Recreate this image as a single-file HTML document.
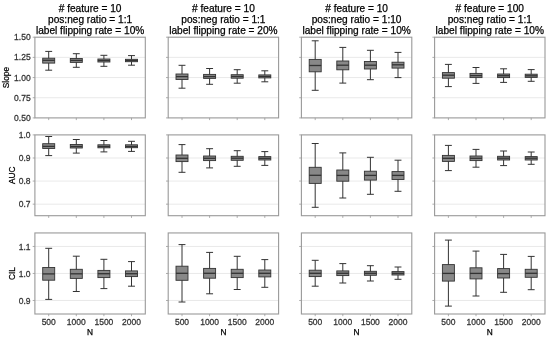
<!DOCTYPE html><html><head><meta charset="utf-8"><style>html,body{margin:0;padding:0;background:#fff;}svg{display:block;}text{font-family:"Liberation Sans",Arial,sans-serif;stroke:currentColor;stroke-width:0.25px;font-variant-ligatures:none;}</style></head><body>
<svg width="550" height="338" viewBox="0 0 550 338">
<rect x="0" y="0" width="550" height="338" fill="#ffffff"/>
<line x1="34.9" y1="57.38" x2="145.3" y2="57.38" stroke="#e3e3e3" stroke-width="0.8"/>
<line x1="34.9" y1="77.55" x2="145.3" y2="77.55" stroke="#e3e3e3" stroke-width="0.8"/>
<line x1="34.9" y1="97.73" x2="145.3" y2="97.73" stroke="#e3e3e3" stroke-width="0.8"/>
<line x1="48.7" y1="51.4" x2="48.7" y2="70.2" stroke="#333333" stroke-width="1"/>
<line x1="45.25" y1="51.4" x2="52.15" y2="51.4" stroke="#333333" stroke-width="1"/>
<line x1="45.25" y1="70.2" x2="52.15" y2="70.2" stroke="#333333" stroke-width="1"/>
<rect x="42.7" y="58.2" width="12" height="4.9" fill="#888888" stroke="#333333" stroke-width="0.9"/>
<line x1="42.7" y1="60.3" x2="54.7" y2="60.3" stroke="#333333" stroke-width="1.3"/>
<line x1="76.3" y1="53.7" x2="76.3" y2="67.3" stroke="#333333" stroke-width="1"/>
<line x1="72.85" y1="53.7" x2="79.75" y2="53.7" stroke="#333333" stroke-width="1"/>
<line x1="72.85" y1="67.3" x2="79.75" y2="67.3" stroke="#333333" stroke-width="1"/>
<rect x="70.3" y="58.5" width="12" height="3.9" fill="#888888" stroke="#333333" stroke-width="0.9"/>
<line x1="70.3" y1="60.4" x2="82.3" y2="60.4" stroke="#333333" stroke-width="1.3"/>
<line x1="103.9" y1="55.3" x2="103.9" y2="66.3" stroke="#333333" stroke-width="1"/>
<line x1="100.45" y1="55.3" x2="107.35" y2="55.3" stroke="#333333" stroke-width="1"/>
<line x1="100.45" y1="66.3" x2="107.35" y2="66.3" stroke="#333333" stroke-width="1"/>
<rect x="97.9" y="59" width="12" height="3" fill="#888888" stroke="#333333" stroke-width="0.9"/>
<line x1="97.9" y1="60.5" x2="109.9" y2="60.5" stroke="#333333" stroke-width="1.3"/>
<line x1="131.5" y1="55.6" x2="131.5" y2="65.2" stroke="#333333" stroke-width="1"/>
<line x1="128.05" y1="55.6" x2="134.95" y2="55.6" stroke="#333333" stroke-width="1"/>
<line x1="128.05" y1="65.2" x2="134.95" y2="65.2" stroke="#333333" stroke-width="1"/>
<rect x="125.5" y="59.3" width="12" height="2.4" fill="#888888" stroke="#333333" stroke-width="0.9"/>
<line x1="125.5" y1="60.5" x2="137.5" y2="60.5" stroke="#333333" stroke-width="1.3"/>
<rect x="34.9" y="37.2" width="110.4" height="80.7" fill="none" stroke="#999999" stroke-width="1.1"/>
<line x1="32.7" y1="37.2" x2="34.9" y2="37.2" stroke="#999999" stroke-width="0.8"/>
<text transform="translate(30.6 40.3) scale(1 1.08)" font-size="8.5" fill="#333333" color="#333333" text-anchor="end">1.50</text>
<line x1="32.7" y1="57.38" x2="34.9" y2="57.38" stroke="#999999" stroke-width="0.8"/>
<text transform="translate(30.6 60.47) scale(1 1.08)" font-size="8.5" fill="#333333" color="#333333" text-anchor="end">1.25</text>
<line x1="32.7" y1="77.55" x2="34.9" y2="77.55" stroke="#999999" stroke-width="0.8"/>
<text transform="translate(30.6 80.65) scale(1 1.08)" font-size="8.5" fill="#333333" color="#333333" text-anchor="end">1.00</text>
<line x1="32.7" y1="97.73" x2="34.9" y2="97.73" stroke="#999999" stroke-width="0.8"/>
<text transform="translate(30.6 100.82) scale(1 1.08)" font-size="8.5" fill="#333333" color="#333333" text-anchor="end">0.75</text>
<line x1="32.7" y1="117.9" x2="34.9" y2="117.9" stroke="#999999" stroke-width="0.8"/>
<text transform="translate(30.6 121) scale(1 1.08)" font-size="8.5" fill="#333333" color="#333333" text-anchor="end">0.50</text>
<line x1="48.7" y1="117.9" x2="48.7" y2="120.1" stroke="#999999" stroke-width="0.8"/>
<line x1="76.3" y1="117.9" x2="76.3" y2="120.1" stroke="#999999" stroke-width="0.8"/>
<line x1="103.9" y1="117.9" x2="103.9" y2="120.1" stroke="#999999" stroke-width="0.8"/>
<line x1="131.5" y1="117.9" x2="131.5" y2="120.1" stroke="#999999" stroke-width="0.8"/>
<text x="90.1" y="12.1" font-size="10.15" fill="#000000" color="#000000" text-anchor="middle"># feature = 10</text>
<text x="90.1" y="22.8" font-size="10.15" fill="#000000" color="#000000" text-anchor="middle">pos:neg ratio = 1:1</text>
<text x="90.1" y="33.8" font-size="10.15" fill="#000000" color="#000000" text-anchor="middle">label flipping rate = 10%</text>
<line x1="168.2" y1="57.38" x2="278.6" y2="57.38" stroke="#e3e3e3" stroke-width="0.8"/>
<line x1="168.2" y1="77.55" x2="278.6" y2="77.55" stroke="#e3e3e3" stroke-width="0.8"/>
<line x1="168.2" y1="97.73" x2="278.6" y2="97.73" stroke="#e3e3e3" stroke-width="0.8"/>
<line x1="182" y1="65.3" x2="182" y2="88.2" stroke="#333333" stroke-width="1"/>
<line x1="178.55" y1="65.3" x2="185.45" y2="65.3" stroke="#333333" stroke-width="1"/>
<line x1="178.55" y1="88.2" x2="185.45" y2="88.2" stroke="#333333" stroke-width="1"/>
<rect x="176" y="74" width="12" height="5.5" fill="#888888" stroke="#333333" stroke-width="0.9"/>
<line x1="176" y1="76.6" x2="188" y2="76.6" stroke="#333333" stroke-width="1.3"/>
<line x1="209.6" y1="68.5" x2="209.6" y2="84.3" stroke="#333333" stroke-width="1"/>
<line x1="206.15" y1="68.5" x2="213.05" y2="68.5" stroke="#333333" stroke-width="1"/>
<line x1="206.15" y1="84.3" x2="213.05" y2="84.3" stroke="#333333" stroke-width="1"/>
<rect x="203.6" y="74.4" width="12" height="4" fill="#888888" stroke="#333333" stroke-width="0.9"/>
<line x1="203.6" y1="76.6" x2="215.6" y2="76.6" stroke="#333333" stroke-width="1.3"/>
<line x1="237.2" y1="69.7" x2="237.2" y2="83.2" stroke="#333333" stroke-width="1"/>
<line x1="233.75" y1="69.7" x2="240.65" y2="69.7" stroke="#333333" stroke-width="1"/>
<line x1="233.75" y1="83.2" x2="240.65" y2="83.2" stroke="#333333" stroke-width="1"/>
<rect x="231.2" y="74.7" width="12" height="3.5" fill="#888888" stroke="#333333" stroke-width="0.9"/>
<line x1="231.2" y1="76.5" x2="243.2" y2="76.5" stroke="#333333" stroke-width="1.3"/>
<line x1="264.8" y1="70.8" x2="264.8" y2="81.8" stroke="#333333" stroke-width="1"/>
<line x1="261.35" y1="70.8" x2="268.25" y2="70.8" stroke="#333333" stroke-width="1"/>
<line x1="261.35" y1="81.8" x2="268.25" y2="81.8" stroke="#333333" stroke-width="1"/>
<rect x="258.8" y="74.9" width="12" height="3" fill="#888888" stroke="#333333" stroke-width="0.9"/>
<line x1="258.8" y1="76.5" x2="270.8" y2="76.5" stroke="#333333" stroke-width="1.3"/>
<rect x="168.2" y="37.2" width="110.4" height="80.7" fill="none" stroke="#999999" stroke-width="1.1"/>
<line x1="166" y1="37.2" x2="168.2" y2="37.2" stroke="#999999" stroke-width="0.8"/>
<line x1="166" y1="57.38" x2="168.2" y2="57.38" stroke="#999999" stroke-width="0.8"/>
<line x1="166" y1="77.55" x2="168.2" y2="77.55" stroke="#999999" stroke-width="0.8"/>
<line x1="166" y1="97.73" x2="168.2" y2="97.73" stroke="#999999" stroke-width="0.8"/>
<line x1="166" y1="117.9" x2="168.2" y2="117.9" stroke="#999999" stroke-width="0.8"/>
<line x1="182" y1="117.9" x2="182" y2="120.1" stroke="#999999" stroke-width="0.8"/>
<line x1="209.6" y1="117.9" x2="209.6" y2="120.1" stroke="#999999" stroke-width="0.8"/>
<line x1="237.2" y1="117.9" x2="237.2" y2="120.1" stroke="#999999" stroke-width="0.8"/>
<line x1="264.8" y1="117.9" x2="264.8" y2="120.1" stroke="#999999" stroke-width="0.8"/>
<text x="223.4" y="12.1" font-size="10.15" fill="#000000" color="#000000" text-anchor="middle"># feature = 10</text>
<text x="223.4" y="22.8" font-size="10.15" fill="#000000" color="#000000" text-anchor="middle">pos:neg ratio = 1:1</text>
<text x="223.4" y="33.8" font-size="10.15" fill="#000000" color="#000000" text-anchor="middle">label flipping rate = 20%</text>
<line x1="301.4" y1="57.38" x2="411.8" y2="57.38" stroke="#e3e3e3" stroke-width="0.8"/>
<line x1="301.4" y1="77.55" x2="411.8" y2="77.55" stroke="#e3e3e3" stroke-width="0.8"/>
<line x1="301.4" y1="97.73" x2="411.8" y2="97.73" stroke="#e3e3e3" stroke-width="0.8"/>
<line x1="315.2" y1="40.8" x2="315.2" y2="90.3" stroke="#333333" stroke-width="1"/>
<line x1="311.75" y1="40.8" x2="318.65" y2="40.8" stroke="#333333" stroke-width="1"/>
<line x1="311.75" y1="90.3" x2="318.65" y2="90.3" stroke="#333333" stroke-width="1"/>
<rect x="309.2" y="59.4" width="12" height="12.4" fill="#888888" stroke="#333333" stroke-width="0.9"/>
<line x1="309.2" y1="65.5" x2="321.2" y2="65.5" stroke="#333333" stroke-width="1.3"/>
<line x1="342.8" y1="47.4" x2="342.8" y2="83.1" stroke="#333333" stroke-width="1"/>
<line x1="339.35" y1="47.4" x2="346.25" y2="47.4" stroke="#333333" stroke-width="1"/>
<line x1="339.35" y1="83.1" x2="346.25" y2="83.1" stroke="#333333" stroke-width="1"/>
<rect x="336.8" y="61" width="12" height="8.8" fill="#888888" stroke="#333333" stroke-width="0.9"/>
<line x1="336.8" y1="65.2" x2="348.8" y2="65.2" stroke="#333333" stroke-width="1.3"/>
<line x1="370.4" y1="50.3" x2="370.4" y2="79.7" stroke="#333333" stroke-width="1"/>
<line x1="366.95" y1="50.3" x2="373.85" y2="50.3" stroke="#333333" stroke-width="1"/>
<line x1="366.95" y1="79.7" x2="373.85" y2="79.7" stroke="#333333" stroke-width="1"/>
<rect x="364.4" y="61.5" width="12" height="7.5" fill="#888888" stroke="#333333" stroke-width="0.9"/>
<line x1="364.4" y1="65.2" x2="376.4" y2="65.2" stroke="#333333" stroke-width="1.3"/>
<line x1="398" y1="52.4" x2="398" y2="77.6" stroke="#333333" stroke-width="1"/>
<line x1="394.55" y1="52.4" x2="401.45" y2="52.4" stroke="#333333" stroke-width="1"/>
<line x1="394.55" y1="77.6" x2="401.45" y2="77.6" stroke="#333333" stroke-width="1"/>
<rect x="392" y="62.2" width="12" height="5.9" fill="#888888" stroke="#333333" stroke-width="0.9"/>
<line x1="392" y1="64.8" x2="404" y2="64.8" stroke="#333333" stroke-width="1.3"/>
<rect x="301.4" y="37.2" width="110.4" height="80.7" fill="none" stroke="#999999" stroke-width="1.1"/>
<line x1="299.2" y1="37.2" x2="301.4" y2="37.2" stroke="#999999" stroke-width="0.8"/>
<line x1="299.2" y1="57.38" x2="301.4" y2="57.38" stroke="#999999" stroke-width="0.8"/>
<line x1="299.2" y1="77.55" x2="301.4" y2="77.55" stroke="#999999" stroke-width="0.8"/>
<line x1="299.2" y1="97.73" x2="301.4" y2="97.73" stroke="#999999" stroke-width="0.8"/>
<line x1="299.2" y1="117.9" x2="301.4" y2="117.9" stroke="#999999" stroke-width="0.8"/>
<line x1="315.2" y1="117.9" x2="315.2" y2="120.1" stroke="#999999" stroke-width="0.8"/>
<line x1="342.8" y1="117.9" x2="342.8" y2="120.1" stroke="#999999" stroke-width="0.8"/>
<line x1="370.4" y1="117.9" x2="370.4" y2="120.1" stroke="#999999" stroke-width="0.8"/>
<line x1="398" y1="117.9" x2="398" y2="120.1" stroke="#999999" stroke-width="0.8"/>
<text x="356.6" y="12.1" font-size="10.15" fill="#000000" color="#000000" text-anchor="middle"># feature = 10</text>
<text x="356.6" y="22.8" font-size="10.15" fill="#000000" color="#000000" text-anchor="middle">pos:neg ratio = 1:10</text>
<text x="356.6" y="33.8" font-size="10.15" fill="#000000" color="#000000" text-anchor="middle">label flipping rate = 10%</text>
<line x1="434.6" y1="57.38" x2="545" y2="57.38" stroke="#e3e3e3" stroke-width="0.8"/>
<line x1="434.6" y1="77.55" x2="545" y2="77.55" stroke="#e3e3e3" stroke-width="0.8"/>
<line x1="434.6" y1="97.73" x2="545" y2="97.73" stroke="#e3e3e3" stroke-width="0.8"/>
<line x1="448.4" y1="64.4" x2="448.4" y2="86.6" stroke="#333333" stroke-width="1"/>
<line x1="444.95" y1="64.4" x2="451.85" y2="64.4" stroke="#333333" stroke-width="1"/>
<line x1="444.95" y1="86.6" x2="451.85" y2="86.6" stroke="#333333" stroke-width="1"/>
<rect x="442.4" y="72.6" width="12" height="5.6" fill="#888888" stroke="#333333" stroke-width="0.9"/>
<line x1="442.4" y1="75.2" x2="454.4" y2="75.2" stroke="#333333" stroke-width="1.3"/>
<line x1="476" y1="67.5" x2="476" y2="83.4" stroke="#333333" stroke-width="1"/>
<line x1="472.55" y1="67.5" x2="479.45" y2="67.5" stroke="#333333" stroke-width="1"/>
<line x1="472.55" y1="83.4" x2="479.45" y2="83.4" stroke="#333333" stroke-width="1"/>
<rect x="470" y="73.4" width="12" height="4.2" fill="#888888" stroke="#333333" stroke-width="0.9"/>
<line x1="470" y1="75.6" x2="482" y2="75.6" stroke="#333333" stroke-width="1.3"/>
<line x1="503.6" y1="68.8" x2="503.6" y2="82.4" stroke="#333333" stroke-width="1"/>
<line x1="500.15" y1="68.8" x2="507.05" y2="68.8" stroke="#333333" stroke-width="1"/>
<line x1="500.15" y1="82.4" x2="507.05" y2="82.4" stroke="#333333" stroke-width="1"/>
<rect x="497.6" y="74" width="12" height="3.6" fill="#888888" stroke="#333333" stroke-width="0.9"/>
<line x1="497.6" y1="75.7" x2="509.6" y2="75.7" stroke="#333333" stroke-width="1.3"/>
<line x1="531.2" y1="69.6" x2="531.2" y2="81.3" stroke="#333333" stroke-width="1"/>
<line x1="527.75" y1="69.6" x2="534.65" y2="69.6" stroke="#333333" stroke-width="1"/>
<line x1="527.75" y1="81.3" x2="534.65" y2="81.3" stroke="#333333" stroke-width="1"/>
<rect x="525.2" y="74.2" width="12" height="3.2" fill="#888888" stroke="#333333" stroke-width="0.9"/>
<line x1="525.2" y1="75.8" x2="537.2" y2="75.8" stroke="#333333" stroke-width="1.3"/>
<rect x="434.6" y="37.2" width="110.4" height="80.7" fill="none" stroke="#999999" stroke-width="1.1"/>
<line x1="432.4" y1="37.2" x2="434.6" y2="37.2" stroke="#999999" stroke-width="0.8"/>
<line x1="432.4" y1="57.38" x2="434.6" y2="57.38" stroke="#999999" stroke-width="0.8"/>
<line x1="432.4" y1="77.55" x2="434.6" y2="77.55" stroke="#999999" stroke-width="0.8"/>
<line x1="432.4" y1="97.73" x2="434.6" y2="97.73" stroke="#999999" stroke-width="0.8"/>
<line x1="432.4" y1="117.9" x2="434.6" y2="117.9" stroke="#999999" stroke-width="0.8"/>
<line x1="448.4" y1="117.9" x2="448.4" y2="120.1" stroke="#999999" stroke-width="0.8"/>
<line x1="476" y1="117.9" x2="476" y2="120.1" stroke="#999999" stroke-width="0.8"/>
<line x1="503.6" y1="117.9" x2="503.6" y2="120.1" stroke="#999999" stroke-width="0.8"/>
<line x1="531.2" y1="117.9" x2="531.2" y2="120.1" stroke="#999999" stroke-width="0.8"/>
<text x="489.8" y="12.1" font-size="10.15" fill="#000000" color="#000000" text-anchor="middle"># feature = 100</text>
<text x="489.8" y="22.8" font-size="10.15" fill="#000000" color="#000000" text-anchor="middle">pos:neg ratio = 1:1</text>
<text x="489.8" y="33.8" font-size="10.15" fill="#000000" color="#000000" text-anchor="middle">label flipping rate = 10%</text>
<text x="9.5" y="77.55" font-size="8.3" fill="#000000" color="#000000" text-anchor="middle" transform="rotate(-90 9.5 77.55)">Slope</text>
<line x1="34.9" y1="157.99" x2="145.3" y2="157.99" stroke="#e3e3e3" stroke-width="0.8"/>
<line x1="34.9" y1="181.07" x2="145.3" y2="181.07" stroke="#e3e3e3" stroke-width="0.8"/>
<line x1="34.9" y1="204.16" x2="145.3" y2="204.16" stroke="#e3e3e3" stroke-width="0.8"/>
<line x1="48.7" y1="136.5" x2="48.7" y2="155.6" stroke="#333333" stroke-width="1"/>
<line x1="45.25" y1="136.5" x2="52.15" y2="136.5" stroke="#333333" stroke-width="1"/>
<line x1="45.25" y1="155.6" x2="52.15" y2="155.6" stroke="#333333" stroke-width="1"/>
<rect x="42.7" y="143.7" width="12" height="4.8" fill="#888888" stroke="#333333" stroke-width="0.9"/>
<line x1="42.7" y1="146.4" x2="54.7" y2="146.4" stroke="#333333" stroke-width="1.3"/>
<line x1="76.3" y1="139.5" x2="76.3" y2="153.1" stroke="#333333" stroke-width="1"/>
<line x1="72.85" y1="139.5" x2="79.75" y2="139.5" stroke="#333333" stroke-width="1"/>
<line x1="72.85" y1="153.1" x2="79.75" y2="153.1" stroke="#333333" stroke-width="1"/>
<rect x="70.3" y="144.5" width="12" height="3.5" fill="#888888" stroke="#333333" stroke-width="0.9"/>
<line x1="70.3" y1="146.5" x2="82.3" y2="146.5" stroke="#333333" stroke-width="1.3"/>
<line x1="103.9" y1="140.5" x2="103.9" y2="151.9" stroke="#333333" stroke-width="1"/>
<line x1="100.45" y1="140.5" x2="107.35" y2="140.5" stroke="#333333" stroke-width="1"/>
<line x1="100.45" y1="151.9" x2="107.35" y2="151.9" stroke="#333333" stroke-width="1"/>
<rect x="97.9" y="144.8" width="12" height="3" fill="#888888" stroke="#333333" stroke-width="0.9"/>
<line x1="97.9" y1="146.5" x2="109.9" y2="146.5" stroke="#333333" stroke-width="1.3"/>
<line x1="131.5" y1="141.3" x2="131.5" y2="151.4" stroke="#333333" stroke-width="1"/>
<line x1="128.05" y1="141.3" x2="134.95" y2="141.3" stroke="#333333" stroke-width="1"/>
<line x1="128.05" y1="151.4" x2="134.95" y2="151.4" stroke="#333333" stroke-width="1"/>
<rect x="125.5" y="144.8" width="12" height="2.9" fill="#888888" stroke="#333333" stroke-width="0.9"/>
<line x1="125.5" y1="146.5" x2="137.5" y2="146.5" stroke="#333333" stroke-width="1.3"/>
<rect x="34.9" y="134.9" width="110.4" height="80.8" fill="none" stroke="#999999" stroke-width="1.1"/>
<line x1="32.7" y1="134.9" x2="34.9" y2="134.9" stroke="#999999" stroke-width="0.8"/>
<text transform="translate(30.6 138) scale(1 1.08)" font-size="8.5" fill="#333333" color="#333333" text-anchor="end">1.0</text>
<line x1="32.7" y1="157.99" x2="34.9" y2="157.99" stroke="#999999" stroke-width="0.8"/>
<text transform="translate(30.6 161.09) scale(1 1.08)" font-size="8.5" fill="#333333" color="#333333" text-anchor="end">0.9</text>
<line x1="32.7" y1="181.07" x2="34.9" y2="181.07" stroke="#999999" stroke-width="0.8"/>
<text transform="translate(30.6 184.17) scale(1 1.08)" font-size="8.5" fill="#333333" color="#333333" text-anchor="end">0.8</text>
<line x1="32.7" y1="204.16" x2="34.9" y2="204.16" stroke="#999999" stroke-width="0.8"/>
<text transform="translate(30.6 207.26) scale(1 1.08)" font-size="8.5" fill="#333333" color="#333333" text-anchor="end">0.7</text>
<line x1="48.7" y1="215.7" x2="48.7" y2="217.9" stroke="#999999" stroke-width="0.8"/>
<line x1="76.3" y1="215.7" x2="76.3" y2="217.9" stroke="#999999" stroke-width="0.8"/>
<line x1="103.9" y1="215.7" x2="103.9" y2="217.9" stroke="#999999" stroke-width="0.8"/>
<line x1="131.5" y1="215.7" x2="131.5" y2="217.9" stroke="#999999" stroke-width="0.8"/>
<line x1="168.2" y1="157.99" x2="278.6" y2="157.99" stroke="#e3e3e3" stroke-width="0.8"/>
<line x1="168.2" y1="181.07" x2="278.6" y2="181.07" stroke="#e3e3e3" stroke-width="0.8"/>
<line x1="168.2" y1="204.16" x2="278.6" y2="204.16" stroke="#e3e3e3" stroke-width="0.8"/>
<line x1="182" y1="144.6" x2="182" y2="172.3" stroke="#333333" stroke-width="1"/>
<line x1="178.55" y1="144.6" x2="185.45" y2="144.6" stroke="#333333" stroke-width="1"/>
<line x1="178.55" y1="172.3" x2="185.45" y2="172.3" stroke="#333333" stroke-width="1"/>
<rect x="176" y="155" width="12" height="6.6" fill="#888888" stroke="#333333" stroke-width="0.9"/>
<line x1="176" y1="158.3" x2="188" y2="158.3" stroke="#333333" stroke-width="1.3"/>
<line x1="209.6" y1="148.7" x2="209.6" y2="167.9" stroke="#333333" stroke-width="1"/>
<line x1="206.15" y1="148.7" x2="213.05" y2="148.7" stroke="#333333" stroke-width="1"/>
<line x1="206.15" y1="167.9" x2="213.05" y2="167.9" stroke="#333333" stroke-width="1"/>
<rect x="203.6" y="156" width="12" height="4.6" fill="#888888" stroke="#333333" stroke-width="0.9"/>
<line x1="203.6" y1="158.3" x2="215.6" y2="158.3" stroke="#333333" stroke-width="1.3"/>
<line x1="237.2" y1="150.7" x2="237.2" y2="166.3" stroke="#333333" stroke-width="1"/>
<line x1="233.75" y1="150.7" x2="240.65" y2="150.7" stroke="#333333" stroke-width="1"/>
<line x1="233.75" y1="166.3" x2="240.65" y2="166.3" stroke="#333333" stroke-width="1"/>
<rect x="231.2" y="156.3" width="12" height="4" fill="#888888" stroke="#333333" stroke-width="0.9"/>
<line x1="231.2" y1="158.2" x2="243.2" y2="158.2" stroke="#333333" stroke-width="1.3"/>
<line x1="264.8" y1="151.6" x2="264.8" y2="165.4" stroke="#333333" stroke-width="1"/>
<line x1="261.35" y1="151.6" x2="268.25" y2="151.6" stroke="#333333" stroke-width="1"/>
<line x1="261.35" y1="165.4" x2="268.25" y2="165.4" stroke="#333333" stroke-width="1"/>
<rect x="258.8" y="156.6" width="12" height="3.4" fill="#888888" stroke="#333333" stroke-width="0.9"/>
<line x1="258.8" y1="158.3" x2="270.8" y2="158.3" stroke="#333333" stroke-width="1.3"/>
<rect x="168.2" y="134.9" width="110.4" height="80.8" fill="none" stroke="#999999" stroke-width="1.1"/>
<line x1="166" y1="134.9" x2="168.2" y2="134.9" stroke="#999999" stroke-width="0.8"/>
<line x1="166" y1="157.99" x2="168.2" y2="157.99" stroke="#999999" stroke-width="0.8"/>
<line x1="166" y1="181.07" x2="168.2" y2="181.07" stroke="#999999" stroke-width="0.8"/>
<line x1="166" y1="204.16" x2="168.2" y2="204.16" stroke="#999999" stroke-width="0.8"/>
<line x1="182" y1="215.7" x2="182" y2="217.9" stroke="#999999" stroke-width="0.8"/>
<line x1="209.6" y1="215.7" x2="209.6" y2="217.9" stroke="#999999" stroke-width="0.8"/>
<line x1="237.2" y1="215.7" x2="237.2" y2="217.9" stroke="#999999" stroke-width="0.8"/>
<line x1="264.8" y1="215.7" x2="264.8" y2="217.9" stroke="#999999" stroke-width="0.8"/>
<line x1="301.4" y1="157.99" x2="411.8" y2="157.99" stroke="#e3e3e3" stroke-width="0.8"/>
<line x1="301.4" y1="181.07" x2="411.8" y2="181.07" stroke="#e3e3e3" stroke-width="0.8"/>
<line x1="301.4" y1="204.16" x2="411.8" y2="204.16" stroke="#e3e3e3" stroke-width="0.8"/>
<line x1="315.2" y1="143.5" x2="315.2" y2="207.3" stroke="#333333" stroke-width="1"/>
<line x1="311.75" y1="143.5" x2="318.65" y2="143.5" stroke="#333333" stroke-width="1"/>
<line x1="311.75" y1="207.3" x2="318.65" y2="207.3" stroke="#333333" stroke-width="1"/>
<rect x="309.2" y="167.3" width="12" height="16.1" fill="#888888" stroke="#333333" stroke-width="0.9"/>
<line x1="309.2" y1="175.3" x2="321.2" y2="175.3" stroke="#333333" stroke-width="1.3"/>
<line x1="342.8" y1="152.9" x2="342.8" y2="198" stroke="#333333" stroke-width="1"/>
<line x1="339.35" y1="152.9" x2="346.25" y2="152.9" stroke="#333333" stroke-width="1"/>
<line x1="339.35" y1="198" x2="346.25" y2="198" stroke="#333333" stroke-width="1"/>
<rect x="336.8" y="170" width="12" height="11.2" fill="#888888" stroke="#333333" stroke-width="0.9"/>
<line x1="336.8" y1="175.4" x2="348.8" y2="175.4" stroke="#333333" stroke-width="1.3"/>
<line x1="370.4" y1="157.3" x2="370.4" y2="194.3" stroke="#333333" stroke-width="1"/>
<line x1="366.95" y1="157.3" x2="373.85" y2="157.3" stroke="#333333" stroke-width="1"/>
<line x1="366.95" y1="194.3" x2="373.85" y2="194.3" stroke="#333333" stroke-width="1"/>
<rect x="364.4" y="171.2" width="12" height="8.9" fill="#888888" stroke="#333333" stroke-width="0.9"/>
<line x1="364.4" y1="175.4" x2="376.4" y2="175.4" stroke="#333333" stroke-width="1.3"/>
<line x1="398" y1="160.2" x2="398" y2="191.3" stroke="#333333" stroke-width="1"/>
<line x1="394.55" y1="160.2" x2="401.45" y2="160.2" stroke="#333333" stroke-width="1"/>
<line x1="394.55" y1="191.3" x2="401.45" y2="191.3" stroke="#333333" stroke-width="1"/>
<rect x="392" y="171.6" width="12" height="7.9" fill="#888888" stroke="#333333" stroke-width="0.9"/>
<line x1="392" y1="175.4" x2="404" y2="175.4" stroke="#333333" stroke-width="1.3"/>
<rect x="301.4" y="134.9" width="110.4" height="80.8" fill="none" stroke="#999999" stroke-width="1.1"/>
<line x1="299.2" y1="134.9" x2="301.4" y2="134.9" stroke="#999999" stroke-width="0.8"/>
<line x1="299.2" y1="157.99" x2="301.4" y2="157.99" stroke="#999999" stroke-width="0.8"/>
<line x1="299.2" y1="181.07" x2="301.4" y2="181.07" stroke="#999999" stroke-width="0.8"/>
<line x1="299.2" y1="204.16" x2="301.4" y2="204.16" stroke="#999999" stroke-width="0.8"/>
<line x1="315.2" y1="215.7" x2="315.2" y2="217.9" stroke="#999999" stroke-width="0.8"/>
<line x1="342.8" y1="215.7" x2="342.8" y2="217.9" stroke="#999999" stroke-width="0.8"/>
<line x1="370.4" y1="215.7" x2="370.4" y2="217.9" stroke="#999999" stroke-width="0.8"/>
<line x1="398" y1="215.7" x2="398" y2="217.9" stroke="#999999" stroke-width="0.8"/>
<line x1="434.6" y1="157.99" x2="545" y2="157.99" stroke="#e3e3e3" stroke-width="0.8"/>
<line x1="434.6" y1="181.07" x2="545" y2="181.07" stroke="#e3e3e3" stroke-width="0.8"/>
<line x1="434.6" y1="204.16" x2="545" y2="204.16" stroke="#e3e3e3" stroke-width="0.8"/>
<line x1="448.4" y1="145.4" x2="448.4" y2="170.6" stroke="#333333" stroke-width="1"/>
<line x1="444.95" y1="145.4" x2="451.85" y2="145.4" stroke="#333333" stroke-width="1"/>
<line x1="444.95" y1="170.6" x2="451.85" y2="170.6" stroke="#333333" stroke-width="1"/>
<rect x="442.4" y="155.4" width="12" height="6" fill="#888888" stroke="#333333" stroke-width="0.9"/>
<line x1="442.4" y1="158.3" x2="454.4" y2="158.3" stroke="#333333" stroke-width="1.3"/>
<line x1="476" y1="149.4" x2="476" y2="167.2" stroke="#333333" stroke-width="1"/>
<line x1="472.55" y1="149.4" x2="479.45" y2="149.4" stroke="#333333" stroke-width="1"/>
<line x1="472.55" y1="167.2" x2="479.45" y2="167.2" stroke="#333333" stroke-width="1"/>
<rect x="470" y="156" width="12" height="4.6" fill="#888888" stroke="#333333" stroke-width="0.9"/>
<line x1="470" y1="158.3" x2="482" y2="158.3" stroke="#333333" stroke-width="1.3"/>
<line x1="503.6" y1="151" x2="503.6" y2="165.6" stroke="#333333" stroke-width="1"/>
<line x1="500.15" y1="151" x2="507.05" y2="151" stroke="#333333" stroke-width="1"/>
<line x1="500.15" y1="165.6" x2="507.05" y2="165.6" stroke="#333333" stroke-width="1"/>
<rect x="497.6" y="156.3" width="12" height="3.7" fill="#888888" stroke="#333333" stroke-width="0.9"/>
<line x1="497.6" y1="158.2" x2="509.6" y2="158.2" stroke="#333333" stroke-width="1.3"/>
<line x1="531.2" y1="152" x2="531.2" y2="164.3" stroke="#333333" stroke-width="1"/>
<line x1="527.75" y1="152" x2="534.65" y2="152" stroke="#333333" stroke-width="1"/>
<line x1="527.75" y1="164.3" x2="534.65" y2="164.3" stroke="#333333" stroke-width="1"/>
<rect x="525.2" y="156.6" width="12" height="3.4" fill="#888888" stroke="#333333" stroke-width="0.9"/>
<line x1="525.2" y1="158.2" x2="537.2" y2="158.2" stroke="#333333" stroke-width="1.3"/>
<rect x="434.6" y="134.9" width="110.4" height="80.8" fill="none" stroke="#999999" stroke-width="1.1"/>
<line x1="432.4" y1="134.9" x2="434.6" y2="134.9" stroke="#999999" stroke-width="0.8"/>
<line x1="432.4" y1="157.99" x2="434.6" y2="157.99" stroke="#999999" stroke-width="0.8"/>
<line x1="432.4" y1="181.07" x2="434.6" y2="181.07" stroke="#999999" stroke-width="0.8"/>
<line x1="432.4" y1="204.16" x2="434.6" y2="204.16" stroke="#999999" stroke-width="0.8"/>
<line x1="448.4" y1="215.7" x2="448.4" y2="217.9" stroke="#999999" stroke-width="0.8"/>
<line x1="476" y1="215.7" x2="476" y2="217.9" stroke="#999999" stroke-width="0.8"/>
<line x1="503.6" y1="215.7" x2="503.6" y2="217.9" stroke="#999999" stroke-width="0.8"/>
<line x1="531.2" y1="215.7" x2="531.2" y2="217.9" stroke="#999999" stroke-width="0.8"/>
<text x="14.9" y="175.3" font-size="8.3" fill="#000000" color="#000000" text-anchor="middle" transform="rotate(-90 14.9 175.3)">AUC</text>
<line x1="34.9" y1="246.46" x2="145.3" y2="246.46" stroke="#e3e3e3" stroke-width="0.8"/>
<line x1="34.9" y1="273.47" x2="145.3" y2="273.47" stroke="#e3e3e3" stroke-width="0.8"/>
<line x1="34.9" y1="300.49" x2="145.3" y2="300.49" stroke="#e3e3e3" stroke-width="0.8"/>
<line x1="48.7" y1="248.3" x2="48.7" y2="299.4" stroke="#333333" stroke-width="1"/>
<line x1="45.25" y1="248.3" x2="52.15" y2="248.3" stroke="#333333" stroke-width="1"/>
<line x1="45.25" y1="299.4" x2="52.15" y2="299.4" stroke="#333333" stroke-width="1"/>
<rect x="42.7" y="267.5" width="12" height="12.7" fill="#888888" stroke="#333333" stroke-width="0.9"/>
<line x1="42.7" y1="273.9" x2="54.7" y2="273.9" stroke="#333333" stroke-width="1.3"/>
<line x1="76.3" y1="256.2" x2="76.3" y2="291.5" stroke="#333333" stroke-width="1"/>
<line x1="72.85" y1="256.2" x2="79.75" y2="256.2" stroke="#333333" stroke-width="1"/>
<line x1="72.85" y1="291.5" x2="79.75" y2="291.5" stroke="#333333" stroke-width="1"/>
<rect x="70.3" y="269.3" width="12" height="9.1" fill="#888888" stroke="#333333" stroke-width="0.9"/>
<line x1="70.3" y1="273.8" x2="82.3" y2="273.8" stroke="#333333" stroke-width="1.3"/>
<line x1="103.9" y1="259.3" x2="103.9" y2="288.6" stroke="#333333" stroke-width="1"/>
<line x1="100.45" y1="259.3" x2="107.35" y2="259.3" stroke="#333333" stroke-width="1"/>
<line x1="100.45" y1="288.6" x2="107.35" y2="288.6" stroke="#333333" stroke-width="1"/>
<rect x="97.9" y="270.4" width="12" height="7.2" fill="#888888" stroke="#333333" stroke-width="0.9"/>
<line x1="97.9" y1="273.7" x2="109.9" y2="273.7" stroke="#333333" stroke-width="1.3"/>
<line x1="131.5" y1="261.6" x2="131.5" y2="286.2" stroke="#333333" stroke-width="1"/>
<line x1="128.05" y1="261.6" x2="134.95" y2="261.6" stroke="#333333" stroke-width="1"/>
<line x1="128.05" y1="286.2" x2="134.95" y2="286.2" stroke="#333333" stroke-width="1"/>
<rect x="125.5" y="270.9" width="12" height="5.7" fill="#888888" stroke="#333333" stroke-width="0.9"/>
<line x1="125.5" y1="273.7" x2="137.5" y2="273.7" stroke="#333333" stroke-width="1.3"/>
<rect x="34.9" y="232.95" width="110.4" height="81.05" fill="none" stroke="#999999" stroke-width="1.1"/>
<line x1="32.7" y1="246.46" x2="34.9" y2="246.46" stroke="#999999" stroke-width="0.8"/>
<text transform="translate(30.6 249.56) scale(1 1.08)" font-size="8.5" fill="#333333" color="#333333" text-anchor="end">1.1</text>
<line x1="32.7" y1="273.47" x2="34.9" y2="273.47" stroke="#999999" stroke-width="0.8"/>
<text transform="translate(30.6 276.57) scale(1 1.08)" font-size="8.5" fill="#333333" color="#333333" text-anchor="end">1.0</text>
<line x1="32.7" y1="300.49" x2="34.9" y2="300.49" stroke="#999999" stroke-width="0.8"/>
<text transform="translate(30.6 303.59) scale(1 1.08)" font-size="8.5" fill="#333333" color="#333333" text-anchor="end">0.9</text>
<line x1="48.7" y1="314" x2="48.7" y2="316.2" stroke="#999999" stroke-width="0.8"/>
<text transform="translate(48.7 324.6) scale(1 1.08)" font-size="8.5" fill="#333333" color="#333333" text-anchor="middle">500</text>
<line x1="76.3" y1="314" x2="76.3" y2="316.2" stroke="#999999" stroke-width="0.8"/>
<text transform="translate(76.3 324.6) scale(1 1.08)" font-size="8.5" fill="#333333" color="#333333" text-anchor="middle">1000</text>
<line x1="103.9" y1="314" x2="103.9" y2="316.2" stroke="#999999" stroke-width="0.8"/>
<text transform="translate(103.9 324.6) scale(1 1.08)" font-size="8.5" fill="#333333" color="#333333" text-anchor="middle">1500</text>
<line x1="131.5" y1="314" x2="131.5" y2="316.2" stroke="#999999" stroke-width="0.8"/>
<text transform="translate(131.5 324.6) scale(1 1.08)" font-size="8.5" fill="#333333" color="#333333" text-anchor="middle">2000</text>
<text x="90.1" y="334.5" font-size="8.3" fill="#000000" color="#000000" text-anchor="middle">N</text>
<line x1="168.2" y1="246.46" x2="278.6" y2="246.46" stroke="#e3e3e3" stroke-width="0.8"/>
<line x1="168.2" y1="273.47" x2="278.6" y2="273.47" stroke="#e3e3e3" stroke-width="0.8"/>
<line x1="168.2" y1="300.49" x2="278.6" y2="300.49" stroke="#e3e3e3" stroke-width="0.8"/>
<line x1="182" y1="244.6" x2="182" y2="302" stroke="#333333" stroke-width="1"/>
<line x1="178.55" y1="244.6" x2="185.45" y2="244.6" stroke="#333333" stroke-width="1"/>
<line x1="178.55" y1="302" x2="185.45" y2="302" stroke="#333333" stroke-width="1"/>
<rect x="176" y="266.2" width="12" height="14.1" fill="#888888" stroke="#333333" stroke-width="0.9"/>
<line x1="176" y1="273.3" x2="188" y2="273.3" stroke="#333333" stroke-width="1.3"/>
<line x1="209.6" y1="252.4" x2="209.6" y2="293.8" stroke="#333333" stroke-width="1"/>
<line x1="206.15" y1="252.4" x2="213.05" y2="252.4" stroke="#333333" stroke-width="1"/>
<line x1="206.15" y1="293.8" x2="213.05" y2="293.8" stroke="#333333" stroke-width="1"/>
<rect x="203.6" y="268.4" width="12" height="9.8" fill="#888888" stroke="#333333" stroke-width="0.9"/>
<line x1="203.6" y1="273.3" x2="215.6" y2="273.3" stroke="#333333" stroke-width="1.3"/>
<line x1="237.2" y1="256.3" x2="237.2" y2="289.5" stroke="#333333" stroke-width="1"/>
<line x1="233.75" y1="256.3" x2="240.65" y2="256.3" stroke="#333333" stroke-width="1"/>
<line x1="233.75" y1="289.5" x2="240.65" y2="289.5" stroke="#333333" stroke-width="1"/>
<rect x="231.2" y="269.3" width="12" height="8.3" fill="#888888" stroke="#333333" stroke-width="0.9"/>
<line x1="231.2" y1="273.3" x2="243.2" y2="273.3" stroke="#333333" stroke-width="1.3"/>
<line x1="264.8" y1="259.6" x2="264.8" y2="287.3" stroke="#333333" stroke-width="1"/>
<line x1="261.35" y1="259.6" x2="268.25" y2="259.6" stroke="#333333" stroke-width="1"/>
<line x1="261.35" y1="287.3" x2="268.25" y2="287.3" stroke="#333333" stroke-width="1"/>
<rect x="258.8" y="270" width="12" height="6.9" fill="#888888" stroke="#333333" stroke-width="0.9"/>
<line x1="258.8" y1="273.3" x2="270.8" y2="273.3" stroke="#333333" stroke-width="1.3"/>
<rect x="168.2" y="232.95" width="110.4" height="81.05" fill="none" stroke="#999999" stroke-width="1.1"/>
<line x1="166" y1="246.46" x2="168.2" y2="246.46" stroke="#999999" stroke-width="0.8"/>
<line x1="166" y1="273.47" x2="168.2" y2="273.47" stroke="#999999" stroke-width="0.8"/>
<line x1="166" y1="300.49" x2="168.2" y2="300.49" stroke="#999999" stroke-width="0.8"/>
<line x1="182" y1="314" x2="182" y2="316.2" stroke="#999999" stroke-width="0.8"/>
<text transform="translate(182 324.6) scale(1 1.08)" font-size="8.5" fill="#333333" color="#333333" text-anchor="middle">500</text>
<line x1="209.6" y1="314" x2="209.6" y2="316.2" stroke="#999999" stroke-width="0.8"/>
<text transform="translate(209.6 324.6) scale(1 1.08)" font-size="8.5" fill="#333333" color="#333333" text-anchor="middle">1000</text>
<line x1="237.2" y1="314" x2="237.2" y2="316.2" stroke="#999999" stroke-width="0.8"/>
<text transform="translate(237.2 324.6) scale(1 1.08)" font-size="8.5" fill="#333333" color="#333333" text-anchor="middle">1500</text>
<line x1="264.8" y1="314" x2="264.8" y2="316.2" stroke="#999999" stroke-width="0.8"/>
<text transform="translate(264.8 324.6) scale(1 1.08)" font-size="8.5" fill="#333333" color="#333333" text-anchor="middle">2000</text>
<text x="223.4" y="334.5" font-size="8.3" fill="#000000" color="#000000" text-anchor="middle">N</text>
<line x1="301.4" y1="246.46" x2="411.8" y2="246.46" stroke="#e3e3e3" stroke-width="0.8"/>
<line x1="301.4" y1="273.47" x2="411.8" y2="273.47" stroke="#e3e3e3" stroke-width="0.8"/>
<line x1="301.4" y1="300.49" x2="411.8" y2="300.49" stroke="#e3e3e3" stroke-width="0.8"/>
<line x1="315.2" y1="260.3" x2="315.2" y2="286.2" stroke="#333333" stroke-width="1"/>
<line x1="311.75" y1="260.3" x2="318.65" y2="260.3" stroke="#333333" stroke-width="1"/>
<line x1="311.75" y1="286.2" x2="318.65" y2="286.2" stroke="#333333" stroke-width="1"/>
<rect x="309.2" y="270.2" width="12" height="6.4" fill="#888888" stroke="#333333" stroke-width="0.9"/>
<line x1="309.2" y1="273.3" x2="321.2" y2="273.3" stroke="#333333" stroke-width="1.3"/>
<line x1="342.8" y1="263.6" x2="342.8" y2="283" stroke="#333333" stroke-width="1"/>
<line x1="339.35" y1="263.6" x2="346.25" y2="263.6" stroke="#333333" stroke-width="1"/>
<line x1="339.35" y1="283" x2="346.25" y2="283" stroke="#333333" stroke-width="1"/>
<rect x="336.8" y="270.9" width="12" height="4.7" fill="#888888" stroke="#333333" stroke-width="0.9"/>
<line x1="336.8" y1="273.3" x2="348.8" y2="273.3" stroke="#333333" stroke-width="1.3"/>
<line x1="370.4" y1="265.7" x2="370.4" y2="281" stroke="#333333" stroke-width="1"/>
<line x1="366.95" y1="265.7" x2="373.85" y2="265.7" stroke="#333333" stroke-width="1"/>
<line x1="366.95" y1="281" x2="373.85" y2="281" stroke="#333333" stroke-width="1"/>
<rect x="364.4" y="271.3" width="12" height="4" fill="#888888" stroke="#333333" stroke-width="0.9"/>
<line x1="364.4" y1="273.3" x2="376.4" y2="273.3" stroke="#333333" stroke-width="1.3"/>
<line x1="398" y1="267" x2="398" y2="279.3" stroke="#333333" stroke-width="1"/>
<line x1="394.55" y1="267" x2="401.45" y2="267" stroke="#333333" stroke-width="1"/>
<line x1="394.55" y1="279.3" x2="401.45" y2="279.3" stroke="#333333" stroke-width="1"/>
<rect x="392" y="271.6" width="12" height="3.4" fill="#888888" stroke="#333333" stroke-width="0.9"/>
<line x1="392" y1="273.3" x2="404" y2="273.3" stroke="#333333" stroke-width="1.3"/>
<rect x="301.4" y="232.95" width="110.4" height="81.05" fill="none" stroke="#999999" stroke-width="1.1"/>
<line x1="299.2" y1="246.46" x2="301.4" y2="246.46" stroke="#999999" stroke-width="0.8"/>
<line x1="299.2" y1="273.47" x2="301.4" y2="273.47" stroke="#999999" stroke-width="0.8"/>
<line x1="299.2" y1="300.49" x2="301.4" y2="300.49" stroke="#999999" stroke-width="0.8"/>
<line x1="315.2" y1="314" x2="315.2" y2="316.2" stroke="#999999" stroke-width="0.8"/>
<text transform="translate(315.2 324.6) scale(1 1.08)" font-size="8.5" fill="#333333" color="#333333" text-anchor="middle">500</text>
<line x1="342.8" y1="314" x2="342.8" y2="316.2" stroke="#999999" stroke-width="0.8"/>
<text transform="translate(342.8 324.6) scale(1 1.08)" font-size="8.5" fill="#333333" color="#333333" text-anchor="middle">1000</text>
<line x1="370.4" y1="314" x2="370.4" y2="316.2" stroke="#999999" stroke-width="0.8"/>
<text transform="translate(370.4 324.6) scale(1 1.08)" font-size="8.5" fill="#333333" color="#333333" text-anchor="middle">1500</text>
<line x1="398" y1="314" x2="398" y2="316.2" stroke="#999999" stroke-width="0.8"/>
<text transform="translate(398 324.6) scale(1 1.08)" font-size="8.5" fill="#333333" color="#333333" text-anchor="middle">2000</text>
<text x="356.6" y="334.5" font-size="8.3" fill="#000000" color="#000000" text-anchor="middle">N</text>
<line x1="434.6" y1="246.46" x2="545" y2="246.46" stroke="#e3e3e3" stroke-width="0.8"/>
<line x1="434.6" y1="273.47" x2="545" y2="273.47" stroke="#e3e3e3" stroke-width="0.8"/>
<line x1="434.6" y1="300.49" x2="545" y2="300.49" stroke="#e3e3e3" stroke-width="0.8"/>
<line x1="448.4" y1="240.1" x2="448.4" y2="306.1" stroke="#333333" stroke-width="1"/>
<line x1="444.95" y1="240.1" x2="451.85" y2="240.1" stroke="#333333" stroke-width="1"/>
<line x1="444.95" y1="306.1" x2="451.85" y2="306.1" stroke="#333333" stroke-width="1"/>
<rect x="442.4" y="264.6" width="12" height="16.5" fill="#888888" stroke="#333333" stroke-width="0.9"/>
<line x1="442.4" y1="273.4" x2="454.4" y2="273.4" stroke="#333333" stroke-width="1.3"/>
<line x1="476" y1="251.1" x2="476" y2="296" stroke="#333333" stroke-width="1"/>
<line x1="472.55" y1="251.1" x2="479.45" y2="251.1" stroke="#333333" stroke-width="1"/>
<line x1="472.55" y1="296" x2="479.45" y2="296" stroke="#333333" stroke-width="1"/>
<rect x="470" y="267.8" width="12" height="11.1" fill="#888888" stroke="#333333" stroke-width="0.9"/>
<line x1="470" y1="273.4" x2="482" y2="273.4" stroke="#333333" stroke-width="1.3"/>
<line x1="503.6" y1="254.4" x2="503.6" y2="292.3" stroke="#333333" stroke-width="1"/>
<line x1="500.15" y1="254.4" x2="507.05" y2="254.4" stroke="#333333" stroke-width="1"/>
<line x1="500.15" y1="292.3" x2="507.05" y2="292.3" stroke="#333333" stroke-width="1"/>
<rect x="497.6" y="268.6" width="12" height="9.4" fill="#888888" stroke="#333333" stroke-width="0.9"/>
<line x1="497.6" y1="273.6" x2="509.6" y2="273.6" stroke="#333333" stroke-width="1.3"/>
<line x1="531.2" y1="256.4" x2="531.2" y2="289.7" stroke="#333333" stroke-width="1"/>
<line x1="527.75" y1="256.4" x2="534.65" y2="256.4" stroke="#333333" stroke-width="1"/>
<line x1="527.75" y1="289.7" x2="534.65" y2="289.7" stroke="#333333" stroke-width="1"/>
<rect x="525.2" y="269.3" width="12" height="8" fill="#888888" stroke="#333333" stroke-width="0.9"/>
<line x1="525.2" y1="273.3" x2="537.2" y2="273.3" stroke="#333333" stroke-width="1.3"/>
<rect x="434.6" y="232.95" width="110.4" height="81.05" fill="none" stroke="#999999" stroke-width="1.1"/>
<line x1="432.4" y1="246.46" x2="434.6" y2="246.46" stroke="#999999" stroke-width="0.8"/>
<line x1="432.4" y1="273.47" x2="434.6" y2="273.47" stroke="#999999" stroke-width="0.8"/>
<line x1="432.4" y1="300.49" x2="434.6" y2="300.49" stroke="#999999" stroke-width="0.8"/>
<line x1="448.4" y1="314" x2="448.4" y2="316.2" stroke="#999999" stroke-width="0.8"/>
<text transform="translate(448.4 324.6) scale(1 1.08)" font-size="8.5" fill="#333333" color="#333333" text-anchor="middle">500</text>
<line x1="476" y1="314" x2="476" y2="316.2" stroke="#999999" stroke-width="0.8"/>
<text transform="translate(476 324.6) scale(1 1.08)" font-size="8.5" fill="#333333" color="#333333" text-anchor="middle">1000</text>
<line x1="503.6" y1="314" x2="503.6" y2="316.2" stroke="#999999" stroke-width="0.8"/>
<text transform="translate(503.6 324.6) scale(1 1.08)" font-size="8.5" fill="#333333" color="#333333" text-anchor="middle">1500</text>
<line x1="531.2" y1="314" x2="531.2" y2="316.2" stroke="#999999" stroke-width="0.8"/>
<text transform="translate(531.2 324.6) scale(1 1.08)" font-size="8.5" fill="#333333" color="#333333" text-anchor="middle">2000</text>
<text x="489.8" y="334.5" font-size="8.3" fill="#000000" color="#000000" text-anchor="middle">N</text>
<text x="14.9" y="273.48" font-size="8.3" fill="#000000" color="#000000" text-anchor="middle" transform="rotate(-90 14.9 273.48)">CIL</text>
</svg></body></html>
